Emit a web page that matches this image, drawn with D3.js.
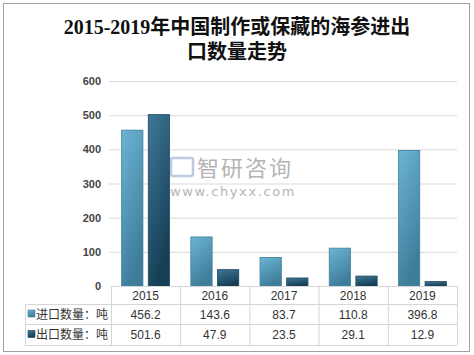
<!DOCTYPE html>
<html><head><meta charset="utf-8">
<script src="https://cdn.jsdelivr.net/npm/d3@7/dist/d3.min.js"></script>
<style>body{margin:0;background:#fff}svg{display:block}</style>
</head><body>
<script>
const years = ["2015","2016","2017","2018","2019"];
const importVals = [456.2,143.6,83.7,110.8,396.8];
const exportVals = [501.6,47.9,23.5,29.1,12.9];
const seriesNames = ["进口数量：吨","出口数量：吨"];
const yTicks = [0,100,200,300,400,500,600];
const titleLines = ["2015-2019年中国制作或保藏的海参进出","口数量走势"];

const W=474,H=355;
const svg=d3.select("body").append("svg").attr("width",W).attr("height",H);
const defs=svg.append("defs");
function grad(id,c1,c2){const g=defs.append("linearGradient").attr("id",id).attr("x1","0").attr("y1","0").attr("x2","0.4").attr("y2","1");
g.append("stop").attr("offset","0").attr("stop-color",c1);g.append("stop").attr("offset","1").attr("stop-color",c2);}
grad("gi","#6db4d5","#3e7d9a");
grad("ge","#3f7898","#163f56");

svg.append("rect").attr("x",3.5).attr("y",3.5).attr("width",466).attr("height",348).attr("fill","#fff").attr("stroke","#a0a0a0");

const tf="'Liberation Serif','Noto Sans CJK SC',serif";
svg.selectAll("text.title").data(titleLines).enter().append("text")
 .attr("x",237).attr("y",(d,i)=>34+i*25).attr("text-anchor","middle")
 .attr("font-family",tf).attr("font-size",20).attr("font-weight","bold").attr("fill","#111").text(d=>d);

const x0=111,x1=457;
const x=d3.scaleBand().domain(years).range([x0,x1]);
const xs=d3.scaleBand().domain([0,1]).range([0,x.bandwidth()]).paddingInner(0.2).paddingOuter(0.4);
const y=d3.scaleLinear().domain([0,600]).range([286,81]);

const grid=svg.append("g");
grid.selectAll("line").data(yTicks.filter(d=>d>0)).enter().append("line")
 .attr("x1",109).attr("x2",x1).attr("y1",d=>y(d)+0.5).attr("y2",d=>y(d)+0.5).attr("stroke","#d9d9d9");

const yAxis=svg.append("g").attr("transform","translate(109,0)").call(d3.axisLeft(y).tickValues(yTicks).tickSize(0).tickPadding(8));
yAxis.select(".domain").remove();
yAxis.selectAll("text").attr("font-family","'Liberation Sans',sans-serif").attr("font-size",11).attr("font-weight","bold").attr("fill","#444");

// watermark
const wm=svg.append("g").attr("opacity",0.55);
wm.append("rect").attr("x",171).attr("y",158).attr("width",22).attr("height",18).attr("fill","none").attr("stroke","#8aa0c8").attr("stroke-width",2.5).attr("rx",2);
wm.append("text").attr("x",197).attr("y",176).attr("font-family","'Noto Sans CJK SC'").attr("font-size",22).attr("fill","#777").attr("letter-spacing",2).text("智研咨询");
wm.append("text").attr("x",170).attr("y",196).attr("font-family","'DejaVu Sans',sans-serif").attr("font-size",13).attr("fill","#777").attr("letter-spacing",1.6).text("www.chyxx.com");

const series=[importVals,exportVals];
const fills=["url(#gi)","url(#ge)"];
const strokes=["#3f7f9e","#1e4a60"];
series.forEach((vals,s)=>{
 svg.append("g").selectAll("rect").data(vals).enter().append("rect")
  .attr("x",(d,i)=>x(years[i])+xs(s)).attr("width",xs.bandwidth())
  .attr("y",d=>y(d)).attr("height",d=>y(0)-y(d))
  .attr("fill",fills[s]).attr("stroke",strokes[s]).attr("stroke-width",0.8);
});

// data table
const tbl=svg.append("g");
const lc="#d6d6d6";
const rowY=[286,304,324,345];
tbl.append("line").attr("x1",x0).attr("x2",x1).attr("y1",286.5).attr("y2",286.5).attr("stroke",lc);
[1,2,3].forEach(r=>tbl.append("line").attr("x1",25).attr("x2",x1).attr("y1",rowY[r]+0.5).attr("y2",rowY[r]+0.5).attr("stroke",lc));
tbl.append("line").attr("x1",25.5).attr("x2",25.5).attr("y1",304).attr("y2",345).attr("stroke",lc);
years.forEach(yr=>tbl.append("line").attr("x1",x(yr)+0.5).attr("x2",x(yr)+0.5).attr("y1",286).attr("y2",345).attr("stroke",lc));
tbl.append("line").attr("x1",x1+0.5).attr("x2",x1+0.5).attr("y1",286).attr("y2",345).attr("stroke",lc);
const nf="'Liberation Sans',sans-serif";
tbl.selectAll("text.yr").data(years).enter().append("text").attr("x",d=>x(d)+x.bandwidth()/2).attr("y",300)
 .attr("text-anchor","middle").attr("font-family",nf).attr("font-size",12).attr("fill","#333").text(d=>d);
series.forEach((vals,s)=>{
 const cy=(rowY[s+1]+rowY[s+2])/2;
 tbl.selectAll("text.v"+s).data(vals).enter().append("text").attr("x",(d,i)=>x(years[i])+x.bandwidth()/2).attr("y",cy+4.5)
  .attr("text-anchor","middle").attr("font-family",nf).attr("font-size",12).attr("fill","#333").text(d=>d.toFixed(1));
 tbl.append("rect").attr("x",28).attr("y",cy-4).attr("width",7).attr("height",7).attr("fill",fills[s]).attr("stroke",strokes[s]).attr("stroke-width",0.6);
 tbl.append("text").attr("x",36).attr("y",cy+4.5).attr("font-family","'Noto Sans CJK SC'").attr("font-size",12).attr("fill","#333").text(seriesNames[s]);
});
</script>
</body></html>
